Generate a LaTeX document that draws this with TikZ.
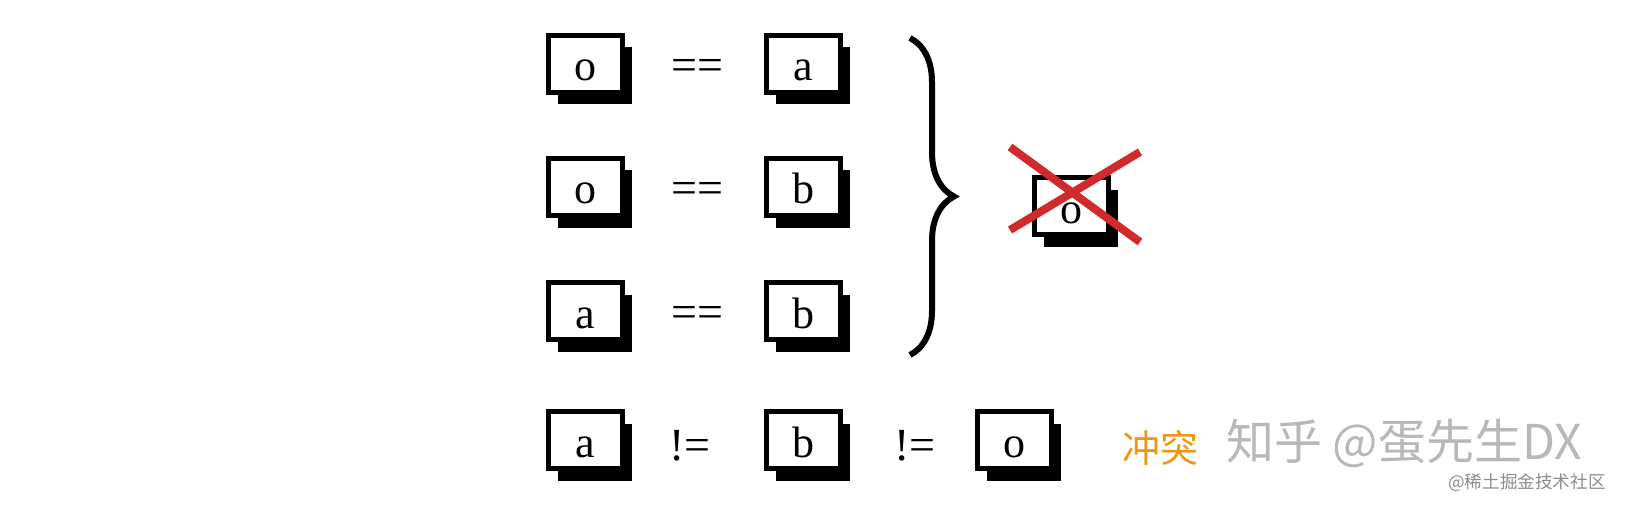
\documentclass[tikz,border=0pt]{standalone}
\usepackage{fontspec}
\setmainfont{Liberation Serif}
\newfontfamily\cjk{Noto Sans CJK SC}
\usetikzlibrary{shadows,decorations.pathreplacing}

\definecolor{crossred}{RGB}{208,42,44}
\definecolor{clashorange}{RGB}{238,150,20}

\begin{document}
\begin{tikzpicture}[x=0.5pt,y=-0.5pt,
            tile/.style={draw,line width=2.5pt,fill=white,minimum width=37pt,
              minimum height=28.5pt,inner sep=0pt,text height=17pt,text depth=0pt,
              font=\fontsize{22}{26}\selectfont,
              drop shadow={shadow xshift=5pt,shadow yshift=-6pt,fill=black,opacity=1}},
            relop/.style={inner sep=0pt,yshift=-3pt,font=\fontsize{23}{26}\selectfont},
            brace/.style={decorate,decoration={brace,amplitude=22pt,aspect=0.5},line width=3pt},
            cross/.style={crossred,line width=4pt}]
 \useasboundingbox (0,0) rectangle (1628,508);

 \node[tile] (o1) at (585,64) {o};
 \node[relop] (eq1) at (697,64) {==};
 \node[tile] (a1) at (803,64) {a};

 \node[tile] (o2) at (585,187) {o};
 \node[relop] (eq2) at (697,187) {==};
 \node[tile] (b2) at (803,187) {b};

 \node[tile] (a3) at (585,311) {a};
 \node[relop] (eq3) at (697,311) {==};
 \node[tile] (b3) at (803,311) {b};

 \node[tile] (a4) at (585,440) {a};
 \node[relop] (ne1) at (690,440) {!=};
 \node[tile] (b4) at (803,440) {b};
 \node[relop] (ne2) at (915,440) {!=};
 \node[tile] (o4) at (1014,440) {o};

 \coordinate (bracetop) at (910,38);
 \coordinate (bracebot) at (910,355);
 \draw[brace] (bracetop) -- (bracebot);

 \node[tile] (ox) at (1071,206) {o};
 \coordinate (xa) at (1010,147);
 \coordinate (xb) at (1140,242);
 \coordinate (xc) at (1010,230);
 \coordinate (xd) at (1140,152);
 \draw[cross] (xa) -- (xb);
 \draw[cross] (xc) -- (xd);

 \node[text=clashorange,font=\cjk\fontsize{19}{22}\selectfont] (clash) at (1160,448) {冲突};
 \node[text=black!28,font=\cjk\fontsize{24}{28}\selectfont] (mark) at (1404,443) {知乎 @蛋先生DX};
 \node[text=black!45,font=\cjk\fontsize{8.8}{10}\selectfont] (site) at (1527,483) {@稀土掘金技术社区};
\end{tikzpicture}
\end{document}
